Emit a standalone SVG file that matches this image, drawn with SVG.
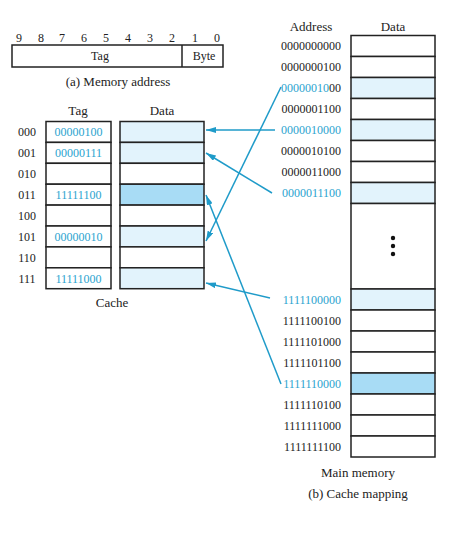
<svg xmlns="http://www.w3.org/2000/svg" width="474" height="536" viewBox="0 0 474 536">
<style>
text{font-family:"Liberation Serif","Times New Roman",serif;font-size:12px;fill:#222}
.w{font-size:13px}
.c{text-anchor:middle}
.r{text-anchor:end}
.b{fill:#2aa3cf}
.cell{fill:#fff;stroke:#222;stroke-width:1.5}
.lt{fill:#e2f3fc}
.md{fill:#a8dcf5}
.ar{stroke:#1f9bc9;stroke-width:1.5;fill:none;marker-end:url(#ah)}
</style>
<defs>
<marker id="ah" viewBox="0 0 10 6" refX="10" refY="3" markerWidth="10" markerHeight="6" markerUnits="userSpaceOnUse" orient="auto">
<path d="M0,0 L10,3 L0,6 Z" fill="#1f9bc9"/>
</marker>
</defs>
<rect width="474" height="536" fill="#fff"/>

<g id="memory-address">
<text x="19" y="42" class="c">9</text>
<text x="41" y="42" class="c">8</text>
<text x="62" y="42" class="c">7</text>
<text x="84" y="42" class="c">6</text>
<text x="106" y="42" class="c">5</text>
<text x="128" y="42" class="c">4</text>
<text x="150" y="42" class="c">3</text>
<text x="172" y="42" class="c">2</text>
<text x="195" y="42" class="c">1</text>
<text x="217" y="42" class="c">0</text>
<rect x="12" y="45" width="211" height="22" fill="#fff" stroke="#222" stroke-width="1.5"/>
<line x1="182" y1="45" x2="182" y2="67" stroke="#222" stroke-width="1.5"/>
<text x="100" y="60" class="c">Tag</text>
<text x="204" y="60" class="c">Byte</text>
<text x="118" y="86" class="c w">(a) Memory address</text>
</g>

<g id="cache">
<text x="78" y="115" class="c w">Tag</text>
<text x="162" y="115" class="c w">Data</text>
<g id="cache-tag">
<rect class="cell" x="46" y="121.5" width="65" height="20.9"/>
<rect class="cell" x="46" y="142.4" width="65" height="20.9"/>
<rect class="cell" x="46" y="163.3" width="65" height="20.9"/>
<rect class="cell" x="46" y="184.2" width="65" height="20.9"/>
<rect class="cell" x="46" y="205.1" width="65" height="20.9"/>
<rect class="cell" x="46" y="226" width="65" height="20.9"/>
<rect class="cell" x="46" y="246.9" width="65" height="20.9"/>
<rect class="cell" x="46" y="267.8" width="65" height="20.9"/>
</g>
<g id="cache-data">
<rect class="cell lt" x="120" y="121.5" width="84" height="20.9"/>
<rect class="cell lt" x="120" y="142.4" width="84" height="20.9"/>
<rect class="cell" x="120" y="163.3" width="84" height="20.9"/>
<rect class="cell md" x="120" y="184.2" width="84" height="20.9"/>
<rect class="cell" x="120" y="205.1" width="84" height="20.9"/>
<rect class="cell lt" x="120" y="226" width="84" height="20.9"/>
<rect class="cell" x="120" y="246.9" width="84" height="20.9"/>
<rect class="cell lt" x="120" y="267.8" width="84" height="20.9"/>
</g>
<g id="cache-index">
<text x="27" y="136" class="c">000</text>
<text x="27" y="157" class="c">001</text>
<text x="27" y="178" class="c">010</text>
<text x="27" y="199" class="c">011</text>
<text x="27" y="219.5" class="c">100</text>
<text x="27" y="240.5" class="c">101</text>
<text x="27" y="261.5" class="c">110</text>
<text x="27" y="282.5" class="c">111</text>
</g>
<text x="78.5" y="136" class="c b">00000100</text>
<text x="78.5" y="157" class="c b">00000111</text>
<text x="78.5" y="199" class="c b">11111100</text>
<text x="78.5" y="240.5" class="c b">00000010</text>
<text x="78.5" y="282.5" class="c b">11111000</text>
<text x="112" y="307" class="c w">Cache</text>
</g>

<g id="main-memory">
<text x="311" y="31" class="c w">Address</text>
<text x="393" y="31" class="c w">Data</text>
<rect class="cell" x="351" y="35.5" width="84" height="21"/>
<rect class="cell" x="351" y="56.5" width="84" height="21"/>
<rect class="cell lt" x="351" y="77.5" width="84" height="21"/>
<rect class="cell" x="351" y="98.5" width="84" height="21"/>
<rect class="cell lt" x="351" y="119.5" width="84" height="21"/>
<rect class="cell" x="351" y="140.5" width="84" height="21"/>
<rect class="cell" x="351" y="161.5" width="84" height="21"/>
<rect class="cell lt" x="351" y="182.5" width="84" height="21"/>
<rect class="cell" x="351" y="203.5" width="84" height="85.5"/>
<circle cx="393" cy="238" r="2.2" fill="#111"/>
<circle cx="393" cy="246" r="2.2" fill="#111"/>
<circle cx="393" cy="254" r="2.2" fill="#111"/>
<rect class="cell lt" x="351" y="289" width="84" height="21"/>
<rect class="cell" x="351" y="310" width="84" height="21"/>
<rect class="cell" x="351" y="331" width="84" height="21"/>
<rect class="cell" x="351" y="352" width="84" height="21"/>
<rect class="cell md" x="351" y="373" width="84" height="21"/>
<rect class="cell" x="351" y="394" width="84" height="21"/>
<rect class="cell" x="351" y="415" width="84" height="21"/>
<rect class="cell" x="351" y="436" width="84" height="21"/>
<text x="341" y="50" class="r">0000000000</text>
<text x="341" y="71" class="r">0000000100</text>
<text x="341" y="92" class="r"><tspan class="b">00000010</tspan>00</text>
<text x="341" y="113" class="r">0000001100</text>
<text x="341" y="134" class="r b">0000010000</text>
<text x="341" y="155" class="r">0000010100</text>
<text x="341" y="176" class="r">0000011000</text>
<text x="341" y="197" class="r b">0000011100</text>
<text x="341" y="303.5" class="r b">1111100000</text>
<text x="341" y="324.5" class="r">1111100100</text>
<text x="341" y="345.5" class="r">1111101000</text>
<text x="341" y="366.5" class="r">1111101100</text>
<text x="341" y="387.5" class="r b">1111110000</text>
<text x="341" y="408.5" class="r">1111110100</text>
<text x="341" y="429.5" class="r">1111111000</text>
<text x="341" y="450.5" class="r">1111111100</text>
<text x="358" y="477" class="c w">Main memory</text>
<text x="358" y="498" class="c w">(b) Cache mapping</text>
</g>

<g id="connectors">
<line class="ar" x1="275" y1="130" x2="206" y2="130"/>
<line class="ar" x1="272" y1="193" x2="206" y2="153"/>
<line class="ar" x1="281" y1="87" x2="206" y2="241"/>
<line class="ar" x1="281" y1="384" x2="206" y2="195"/>
<line class="ar" x1="270" y1="298" x2="206" y2="283"/>
</g>
</svg>
